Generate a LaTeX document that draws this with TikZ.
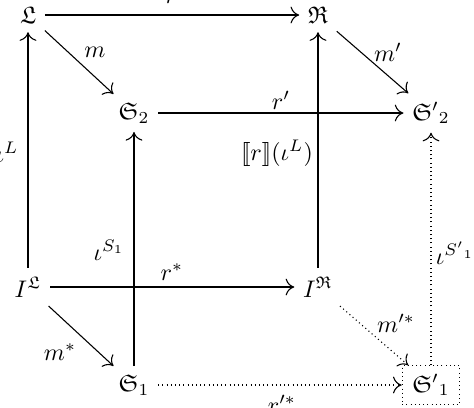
\documentclass[tikz,border=0pt]{standalone}
\usepackage{amssymb}
\usetikzlibrary{arrows.meta}
\begin{document}
\begin{tikzpicture}[x=0.4167pt,y=-0.4167pt,
  obj/.style={inner sep=3.5pt},
  arr/.style={-{To[length=3.6pt,width=7pt]}, line width=0.45pt},
  dotarr/.style={arr, dash pattern=on 0.45pt off 1.3pt},
  lab/.style={inner sep=0pt}]
\useasboundingbox (0,0) rectangle (474,408);
\clip (0,0) rectangle (474,408);
% objects
\node[obj] (L)   at (28,15)  {$\mathfrak{L}$};
\node[obj] (R)   at (318,15) {$\mathfrak{R}$};
\node[obj] (S2)  at (134,113) {$\mathfrak{S}_2$};
\node[obj] (S2p) at (431,113) {${\mathfrak{S}'}_2$};
\node[obj] (IL)  at (28,287) {$I^{\mathfrak{L}}$};
\node[obj] (IR)  at (318,287) {$I^{\mathfrak{R}}$};
\node[obj] (S1)  at (134,385) {$\mathfrak{S}_1$};
\node[obj, draw, dash pattern=on 0.45pt off 1.3pt, line width=0.45pt,
      minimum width=24pt, minimum height=16pt] (S1p) at (431,385) {${\mathfrak{S}'}_1$};
% arrows
\draw[arr] (L) -- (R);
\draw[arr] (L) -- (S2);
\draw[arr] (R) -- (S2p);
\draw[arr] (S2) -- (S2p);
\draw[arr] (IL) -- (L);
\draw[arr] (IR) -- (R);
\draw[arr] (IL) -- (IR);
\draw[arr] (S1) -- (S2);
\draw[arr] (IL) -- (S1);
\draw[dotarr] (IR) -- (S1p);
\draw[dotarr] (S1) -- (S1p);
\draw[dotarr] (S1p) -- (S2p);
% labels
\node[lab, anchor=base] (lr)   at (171,3)   {$r$};
\node[lab] (lm)   at (95,52)   {$m$};
\node[lab] (lmp)  at (388,52)  {$m'$};
\node[lab] (lrp)  at (281,100) {$r'$};
\node[lab] (liL)  at (7,152)   {$\iota^{L}$};
\node[lab] (lrr)  at (277,153) {$[\![r]\!](\iota^{L})$};
\node[lab] (liS)  at (109,250) {$\iota^{S_1}$};
\node[lab] (lrs)  at (172,272) {$r^{*}$};
\node[lab] (liSp) at (455,253) {$\iota^{{S'}_1}$};
\node[lab] (lmps) at (396,323) {$m'^{*}$};
\node[lab] (lms)  at (60,352)  {$m^{*}$};
\node[lab, anchor=base] (lrps) at (282,413) {$r'^{*}$};
\end{tikzpicture}
\end{document}
